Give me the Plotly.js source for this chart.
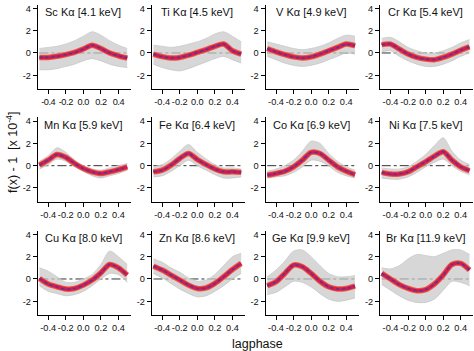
<!DOCTYPE html>
<html>
<head>
<meta charset="utf-8">
<script src="https://cdn.plot.ly/plotly-3.0.1.min.js"></script>
<style>
html,body{margin:0;padding:0;background:#fff;}
#chart{width:474px;height:351px;}
#chart .xtick text{letter-spacing:-0.45px;}
</style>
</head>
<body>
<div id="chart"></div>
<script>
// lag phase grid
const lagphase = [-0.5,-0.4,-0.3,-0.2,-0.1,0.0,0.1,0.2,0.3,0.4,0.5];

// panel titles
const titles = ['Sc Kα [4.1 keV]','Ti Kα [4.5 keV]','V Kα [4.9 keV]','Cr Kα [5.4 keV]',
                'Mn Kα [5.9 keV]','Fe Kα [6.4 keV]','Co Kα [6.9 keV]','Ni Kα [7.5 keV]',
                'Cu Kα [8.0 keV]','Zn Kα [8.6 keV]','Ge Kα [9.9 keV]','Br Kα [11.9 keV]'];

// mean curves (red), upper / lower envelope of the grey bundle, units of 1e-4
const meanSc  = [-0.4,-0.4,-0.3,-0.15,0.05,0.35,0.7,0.4,0.0,-0.25,-0.45];
const upperSc = [0.4,0.5,0.6,0.8,1.1,1.5,1.9,1.6,1.1,0.7,0.4];
const lowerSc = [-1.5,-1.5,-1.4,-1.2,-1.0,-0.7,-0.5,-0.7,-1.0,-1.2,-1.3];

const meanTi  = [-0.1,-0.33,-0.45,-0.4,-0.2,0.05,0.3,0.6,0.8,0.2,-0.1];
const upperTi = [0.7,0.6,0.5,0.6,0.8,1.0,1.3,1.7,1.9,1.5,1.0];
const lowerTi = [-1.0,-1.3,-1.5,-1.6,-1.4,-1.1,-0.8,-0.5,-0.3,-0.6,-0.9];

const meanV   = [0.4,0.1,-0.15,-0.35,-0.45,-0.35,-0.1,0.2,0.5,0.8,0.65];
const upperV  = [1.0,0.8,0.6,0.4,0.3,0.4,0.6,0.9,1.3,1.6,1.5];
const lowerV  = [-0.3,-0.6,-0.9,-1.1,-1.2,-1.1,-0.9,-0.6,-0.3,0.0,-0.1];

const meanCr  = [0.75,0.8,0.35,-0.1,-0.4,-0.55,-0.6,-0.4,-0.1,0.25,0.55];
const upperCr = [1.3,1.4,1.0,0.5,0.2,0.0,0.0,0.2,0.5,0.9,1.2];
const lowerCr = [0.1,0.2,-0.3,-0.7,-1.0,-1.2,-1.2,-1.0,-0.7,-0.3,0.0];

const meanMn  = [0.05,0.5,1.0,0.75,0.2,-0.25,-0.55,-0.7,-0.55,-0.35,-0.1];
const upperMn = [0.4,0.9,1.6,1.2,0.5,0.0,-0.3,-0.4,-0.2,0.0,0.2];
const lowerMn = [-0.3,0.1,0.6,0.4,-0.1,-0.5,-0.9,-1.1,-0.9,-0.7,-0.4];

const meanFe  = [-0.55,-0.4,0.05,0.65,1.1,0.55,0.1,-0.3,-0.55,-0.55,-0.6];
const upperFe = [-0.1,0.1,0.6,1.3,1.9,1.2,0.6,0.1,-0.2,-0.2,-0.3];
const lowerFe = [-1.0,-0.9,-0.5,0.0,0.5,0.0,-0.4,-0.8,-1.1,-1.1,-1.0];

const meanCo  = [-0.85,-0.7,-0.5,-0.1,0.5,1.2,1.1,0.5,-0.1,-0.5,-0.8];
const upperCo = [-0.5,-0.3,0.0,0.5,1.3,2.2,2.0,1.1,0.4,-0.1,-0.4];
const lowerCo = [-1.1,-1.0,-0.9,-0.6,-0.1,0.5,0.4,0.0,-0.6,-0.9,-1.1];

const meanNi  = [-0.6,-0.75,-0.75,-0.55,-0.1,0.35,0.85,1.25,0.5,-0.1,-0.45];
const upperNi = [-0.2,-0.3,-0.3,-0.1,0.4,1.0,1.8,2.5,1.3,0.5,0.1];
const lowerNi = [-1.1,-1.2,-1.2,-1.0,-0.6,-0.1,0.3,0.6,0.0,-0.5,-0.8];

const meanCu  = [0.05,-0.45,-0.7,-0.9,-0.85,-0.55,-0.1,0.55,1.3,1.0,0.35];
const upperCu = [1.0,0.7,0.2,-0.3,-0.3,0.0,0.4,1.3,2.5,2.0,1.3];
const lowerCu = [-0.6,-1.1,-1.3,-1.5,-1.4,-1.1,-0.6,0.0,0.5,0.4,-0.3];

const meanZn  = [1.15,0.8,0.35,-0.1,-0.55,-0.85,-0.8,-0.4,0.2,0.85,1.4];
const upperZn = [1.8,1.5,1.0,0.6,0.1,-0.2,-0.1,0.4,1.2,2.0,2.3];
const lowerZn = [0.5,0.1,-0.4,-0.9,-1.3,-1.6,-1.5,-1.1,-0.6,0.0,0.5];

const meanGe  = [-0.6,-0.25,0.5,1.25,1.1,0.5,-0.2,-0.7,-0.9,-0.85,-0.65];
const upperGe = [0.2,0.8,1.6,2.5,2.6,2.0,1.2,0.5,0.2,0.2,0.3];
const lowerGe = [-1.4,-1.2,-0.7,-0.2,-0.3,-0.7,-1.3,-1.8,-2.0,-1.9,-1.7];

const meanBr  = [0.5,0.0,-0.5,-0.85,-1.05,-0.95,-0.45,0.35,1.3,1.4,0.8];
const upperBr = [1.0,0.9,1.2,1.8,2.2,2.1,2.0,2.3,2.6,2.6,2.2];
const lowerBr = [-0.5,-1.0,-1.5,-1.9,-2.1,-2.1,-1.8,-1.0,-0.2,-0.3,-0.6];

// ticks
const xTickVals = [-0.4,-0.2,0.0,0.2,0.4];
const xTickText = ['-0.4','-0.2','0.0','0.2','0.4'];
const yTickVals = [-2,0,2,4];
const yTickText = ['-2','0','2','4'];

const means  = [meanSc,meanTi,meanV,meanCr,meanMn,meanFe,meanCo,meanNi,meanCu,meanZn,meanGe,meanBr];
const uppers = [upperSc,upperTi,upperV,upperCr,upperMn,upperFe,upperCo,upperNi,upperCu,upperZn,upperGe,upperBr];
const lowers = [lowerSc,lowerTi,lowerV,lowerCr,lowerMn,lowerFe,lowerCo,lowerNi,lowerCu,lowerZn,lowerGe,lowerBr];

const W = 474, H = 351;
const colLeft = [37.7, 151.7, 265.5, 380];
const colW = 93;
const rowBottom = [89, 201.7, 315];
const rowH = 84.3;

const tickFont = {family: 'Liberation Sans, Arial, sans-serif', size: 9.2, color: '#111'};

const traces = [];
const layout = {
  width: W, height: H,
  margin: {l:0, r:0, t:0, b:0},
  paper_bgcolor: '#fff', plot_bgcolor: '#fff',
  showlegend: false,
  font: {family: 'Liberation Sans, Arial, sans-serif', color: '#111', size: 10},
  annotations: [], shapes: []
};

for (let i = 0; i < 12; i++) {
  const r = Math.floor(i / 4), c = i % 4;
  const n = i + 1;
  const xa = n === 1 ? 'x' : 'x' + n;
  const ya = n === 1 ? 'y' : 'y' + n;
  const xKey = n === 1 ? 'xaxis' : 'xaxis' + n;
  const yKey = n === 1 ? 'yaxis' : 'yaxis' + n;
  layout[xKey] = {
    domain: [colLeft[c] / W, (colLeft[c] + colW) / W],
    anchor: ya, range: [-0.52, 0.54],
    showgrid: false, zeroline: false,
    showline: true, linecolor: '#000', linewidth: 1,
    ticks: 'outside', ticklen: 4, tickwidth: 1, tickcolor: '#000',
    tickvals: xTickVals, ticktext: xTickText, tickangle: 0,
    tickfont: tickFont
  };
  layout[yKey] = {
    domain: [1 - rowBottom[r] / H, 1 - (rowBottom[r] - rowH) / H],
    anchor: xa, range: [-3.23, 4.33],
    showgrid: false, zeroline: false,
    showline: true, linecolor: '#000', linewidth: 1,
    ticks: 'outside', ticklen: 4, tickwidth: 1, tickcolor: '#000',
    tickvals: yTickVals, ticktext: yTickText, tickangle: 0,
    tickfont: tickFont
  };
  // zero reference line (below traces)
  layout.shapes.push({
    type: 'line', xref: xa, yref: ya, x0: -0.5, x1: 0.5, y0: 0, y1: 0,
    layer: 'below', line: {color: '#333', width: 1, dash: 'dashdot'}
  });
  // grey bundle envelope
  traces.push({
    x: lagphase, y: lowers[i], xaxis: xa, yaxis: ya, type: 'scatter', mode: 'lines',
    line: {color: 'rgba(200,200,200,0.9)', width: 1, shape: 'spline', smoothing: 0.8},
    hoverinfo: 'skip'
  });
  traces.push({
    x: lagphase, y: uppers[i], xaxis: xa, yaxis: ya, type: 'scatter', mode: 'lines',
    fill: 'tonexty', fillcolor: 'rgba(200,200,200,0.72)',
    line: {color: 'rgba(205,205,205,0.9)', width: 1, shape: 'spline', smoothing: 0.8},
    hoverinfo: 'skip'
  });
  // mean curve
  traces.push({
    x: lagphase, y: means[i], xaxis: xa, yaxis: ya, type: 'scatter', mode: 'lines',
    line: {color: '#ea5a3c', width: 5.5, shape: 'spline', smoothing: 0.8},
    hoverinfo: 'skip'
  });
  traces.push({
    x: lagphase, y: means[i], xaxis: xa, yaxis: ya, type: 'scatter', mode: 'lines',
    line: {color: '#d21d55', width: 3.5, shape: 'spline', smoothing: 0.8},
    hoverinfo: 'skip'
  });
  traces.push({
    x: lagphase, y: means[i], xaxis: xa, yaxis: ya, type: 'scatter', mode: 'lines',
    line: {color: '#4a3a9a', width: 1.3, dash: 'dot', shape: 'spline', smoothing: 0.8},
    hoverinfo: 'skip'
  });
  // panel title
  layout.annotations.push({
    text: titles[i], xref: xa + ' domain', yref: ya + ' domain',
    x: 0.49, y: 0.915, xanchor: 'center', yanchor: 'middle', showarrow: false,
    font: {size: 11, color: '#111'}
  });
}

layout.annotations.push({
  text: 'lagphase', xref: 'paper', yref: 'paper', x: 257 / W, y: 1 - 344 / H,
  xanchor: 'center', yanchor: 'middle', showarrow: false, font: {size: 12.5, color: '#111'}
});
layout.annotations.push({
  text: 'f(x) - 1  [x 10<sup>-4</sup>]', xref: 'paper', yref: 'paper', x: 12 / W, y: 1 - 153 / H,
  xanchor: 'center', yanchor: 'middle', textangle: -90, showarrow: false,
  font: {size: 12.5, color: '#111'}
});

Plotly.newPlot('chart', traces, layout, {staticPlot: true, displayModeBar: false});
</script>
</body>
</html>
